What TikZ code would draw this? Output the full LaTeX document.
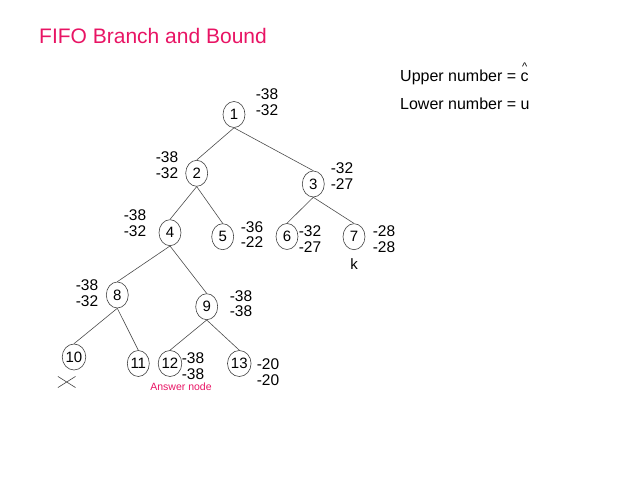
\documentclass[tikz,border=0pt]{standalone}
\usepackage{fontspec}
\setmainfont{Liberation Sans}
\usepackage{xcolor}
\usetikzlibrary{shapes.geometric}
\usetikzlibrary{shapes.misc}
\definecolor{titlepink}{RGB}{232,20,100}
\begin{document}
\begin{tikzpicture}[x=1pt,y=-1pt,
  state/.style={ellipse,draw=black!75,line width=0.6pt,minimum width=22pt,
    minimum height=26pt,inner sep=0pt,font=\fontsize{15}{16}\selectfont},
  bnd/.style={align=left,inner sep=0pt,font=\fontsize{15.5}{15.7}\selectfont},
  tree/.style={draw=black!70,line width=0.6pt}]
        \useasboundingbox (0,0) rectangle (638,478);

        % title and legend
        \node[anchor=base west,inner sep=0pt,text=titlepink,
          font=\fontsize{21}{24}\selectfont] (title) at (39,44) {FIFO Branch and Bound};
        \node[anchor=base west,inner sep=0pt,font=\fontsize{16}{18}\selectfont] (upper) at (400,81.7)
          {Upper number = \ooalign{c\cr\hfil\raisebox{11pt}{\fontsize{11}{11}\selectfont\textasciicircum}\hfil\cr}};
        \node[anchor=base west,inner sep=0pt,font=\fontsize{16}{18}\selectfont] (lower) at (400,110)
          {Lower number = u};

        % state space tree
        \node[state] (n1) at (234,114.5) {1};
        \node[state] (n2) at (196.7,173.3) {2};
        \node[state] (n3) at (313.3,184) {3};
        \node[state] (n4) at (170,232.7) {4};
        \node[state] (n5) at (222.7,236.7) {5};
        \node[state] (n6) at (287,236.5) {6};
        \node[state] (n7) at (354,236.7) {7};
        \node[state] (n8) at (117.3,295) {8};
        \node[state] (n9) at (206.7,306.7) {9};
        \node[state] (n10) at (74,357) {10};
        \node[state] (n11) at (138.3,363.5) {11};
        \node[state] (n12) at (170,363.5) {12};
        \node[state] (n13) at (239.3,363.5) {13};

        \foreach \a/\b in {n1/n2,n1/n3,n2/n4,n2/n5,n3/n6,n3/n7,
                           n4/n8,n4/n9,n8/n10,n8/n11,n9/n12,n9/n13}
          \draw[tree] (\a.south) -- (\b.north);

        % bounds
        \node[bnd] (l1) at (267,102) {-38\\-32};
        \node[bnd] (l2) at (167,165) {-38\\-32};
        \node[bnd] (l3) at (342,176) {-32\\-27};
        \node[bnd] (l4) at (135,223) {-38\\-32};
        \node[bnd] (l5) at (252,234.5) {-36\\-22};
        \node[bnd] (l6) at (310,239) {-32\\-27};
        \node[bnd] (l7) at (384,239.5) {-28\\-28};
        \node[bnd] (l8) at (87,293) {-38\\-32};
        \node[bnd] (l9) at (241,303.7) {-38\\-38};
        \node[bnd] (l12) at (193,366) {-38\\-38};
        \node[bnd] (l13) at (268,372.5) {-20\\-20};

        \node[inner sep=0pt,font=\fontsize{15}{16}\selectfont] (k) at (354,264) {k};
        \node[cross out,draw=black!75,line width=0.6pt,minimum width=17pt,
          minimum height=10.5pt,inner sep=0pt] (x10) at (66.7,382) {};
        \node[inner sep=0pt,text=titlepink,font=\fontsize{10.5}{12}\selectfont] (ans) at (181,387) {Answer node};
      \end{tikzpicture}
\end{document}
